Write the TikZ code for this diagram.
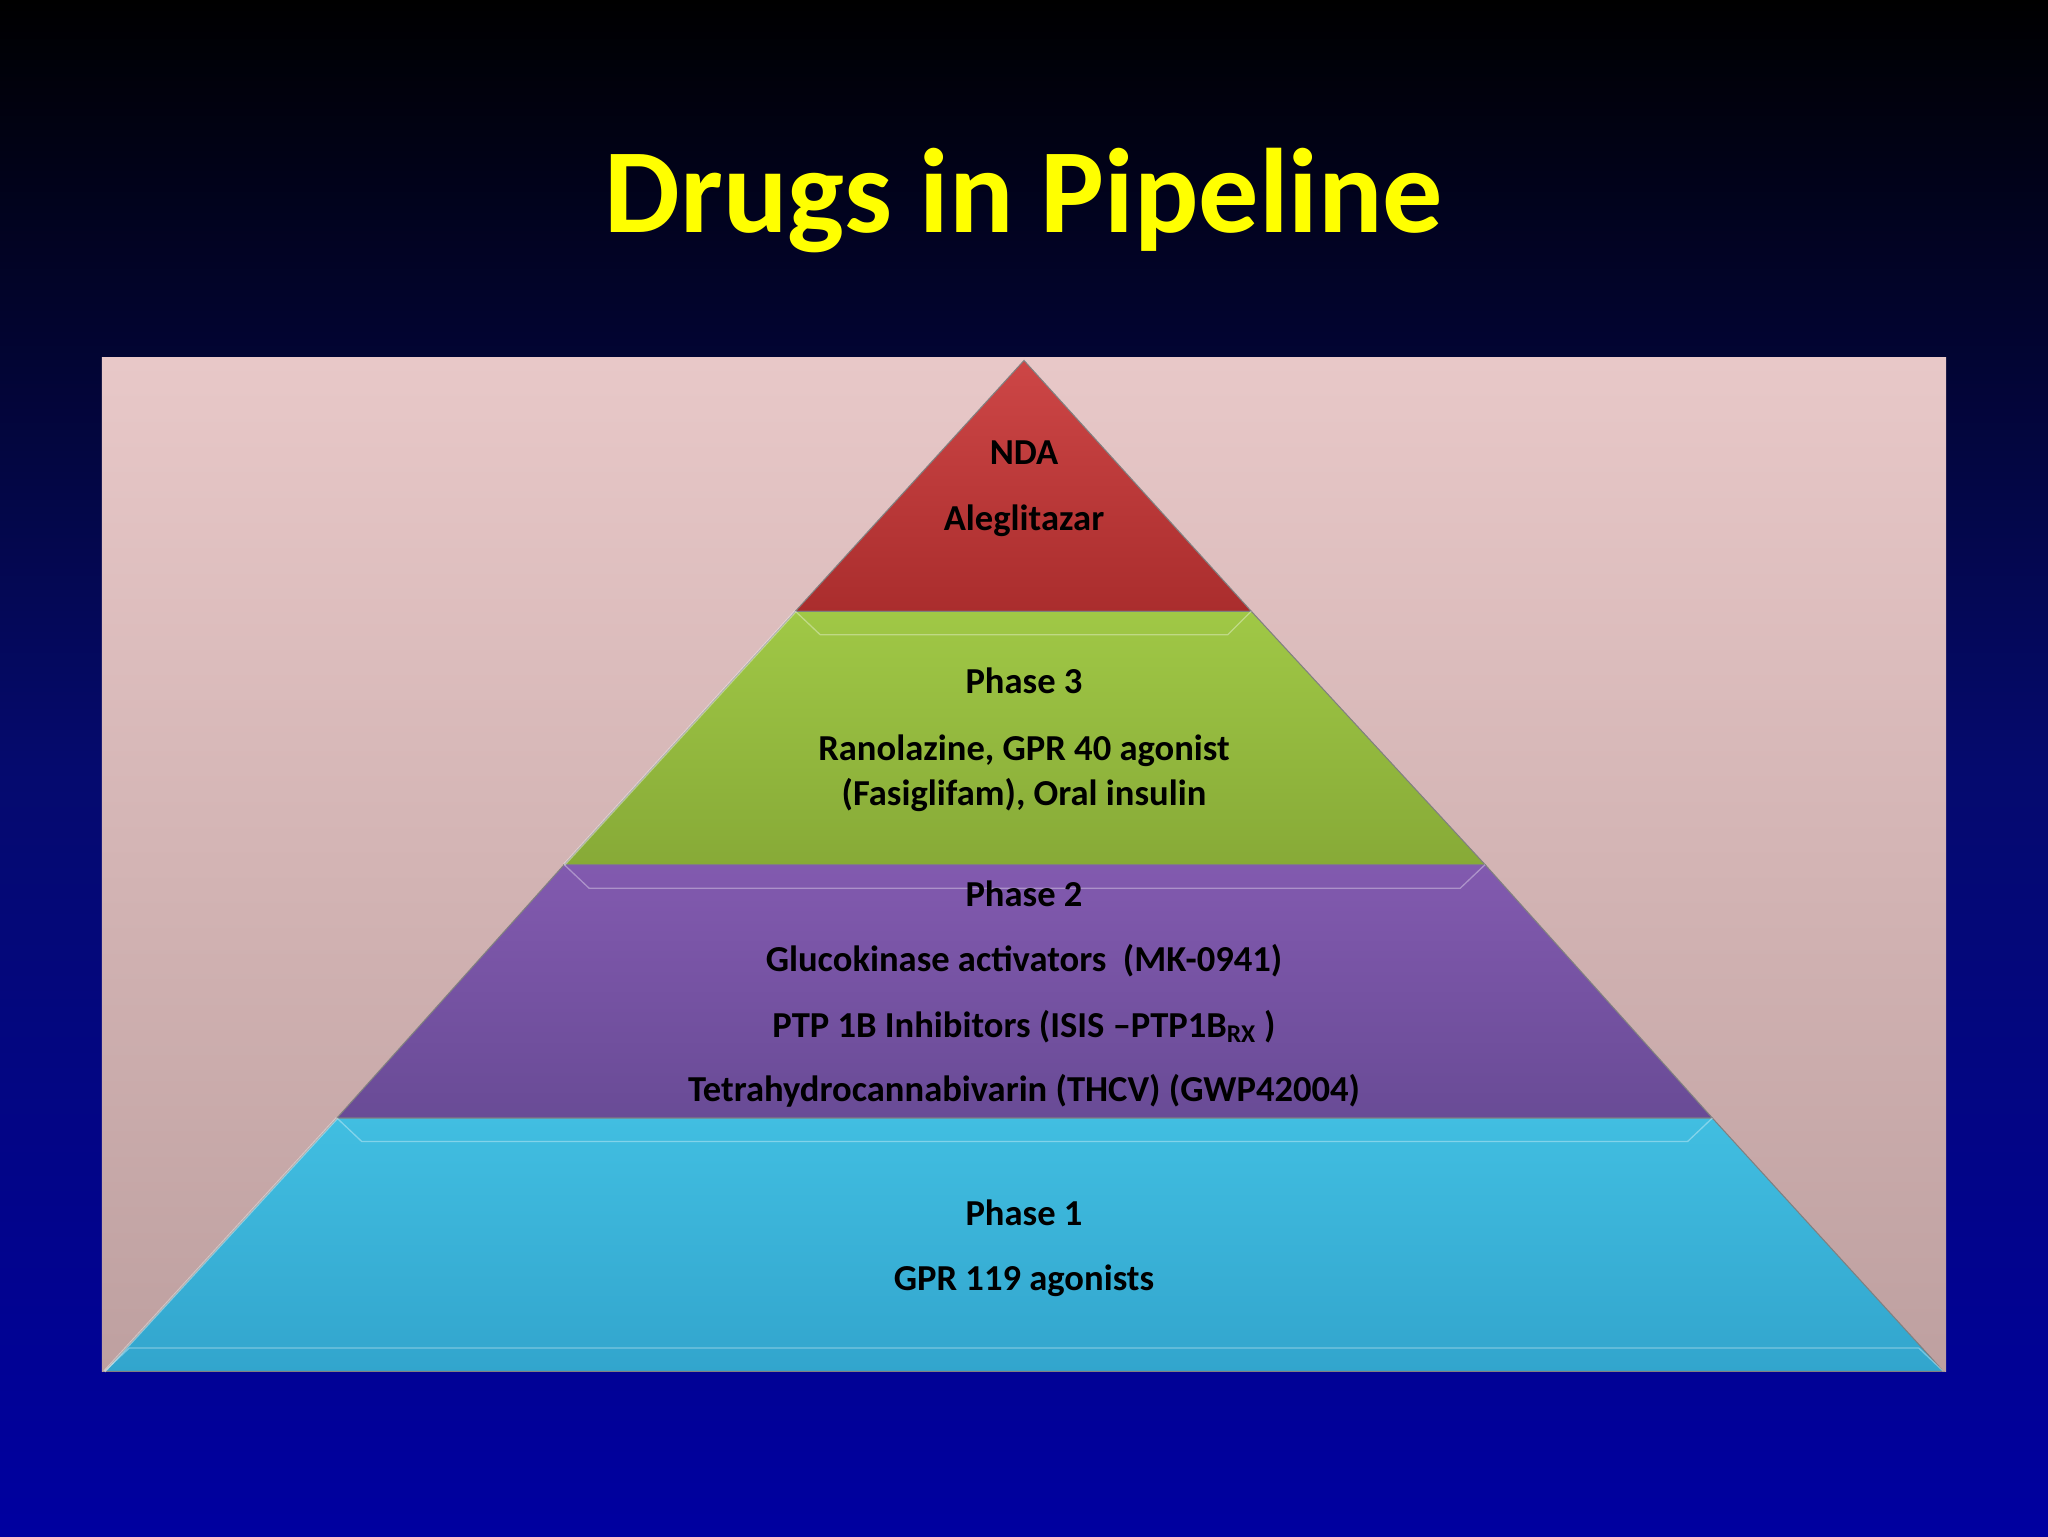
\documentclass[tikz,border=0pt]{standalone}
\usepackage{fontspec}
\setmainfont{Carlito}
\begin{document}
\begin{tikzpicture}[x=1pt,y=-1pt,
  lbl/.style={font=\bfseries\fontsize{28}{32}\selectfont, text=black, inner sep=0pt, anchor=base},
  edge/.style={draw=black!50, line width=0.8pt}]
\definecolor{redL}{RGB}{205,70,70}\definecolor{redD}{RGB}{170,45,45}
\definecolor{grnL}{RGB}{160,200,70}\definecolor{grnD}{RGB}{135,170,55}
\definecolor{purL}{RGB}{130,90,175}\definecolor{purD}{RGB}{105,75,150}
\definecolor{cyaL}{RGB}{65,190,225}\definecolor{cyaD}{RGB}{50,165,205}
\useasboundingbox (0,0) rectangle (1568,1176);
\shade[top color=black, bottom color={rgb,255:red,0;green,0;blue,160}, middle color={rgb,255:red,5;green,10;blue,110}] (0,0) rectangle (1568,1176);
\shade[top color={rgb,255:red,232;green,200;blue,200}, bottom color={rgb,255:red,190;green,160;blue,160}] (78,274) rectangle (1490,1050);
\node[font=\bfseries\fontsize{92}{100}\selectfont, text={rgb,255:red,255;green,255;blue,0}, anchor=base] (title) at (784,178) {Drugs in Pipeline};
% layers
\shade[top color=redL, bottom color=redD, edge] (784,276) -- (958,468) -- (609,468) -- cycle;
\shade[top color=grnL, bottom color=grnD, edge] (609,468) -- (958,468) -- (1137,662) -- (432,662) -- cycle;
\shade[top color=purL, bottom color=purD, edge] (432,662) -- (1137,662) -- (1311,856) -- (258,856) -- cycle;
\shade[top color=cyaL, bottom color=cyaD, edge] (258,856) -- (1311,856) -- (1488,1050) -- (80,1050) -- cycle;
% bevels
\draw[white, opacity=0.35, line width=1pt] (609,468)--(628,486)--(940,486)--(958,468);
\draw[white, opacity=0.35, line width=1pt] (432,662)--(451,680)--(1118,680)--(1137,662);
\draw[white, opacity=0.35, line width=1pt] (258,856)--(277,874)--(1292,874)--(1311,856);
\draw[white, opacity=0.35, line width=1pt] (80,1050)--(99,1032)--(1469,1032)--(1488,1050);
\draw[white, opacity=0.4, line width=2pt] (609,468)--(432,662) (258,856)--(80,1050);
\node[lbl] (n1) at (784,356) {NDA};
\node[lbl] (n2) at (784,406) {Aleglitazar};
\node[lbl] (g1) at (784,531) {Phase 3};
\node[lbl] (g2) at (784,582) {Ranolazine, GPR 40 agonist};
\node[lbl] (g3) at (784,617) {(Fasiglifam), Oral insulin};
\node[lbl] (p1) at (784,694) {Phase 2};
\node[lbl] (p2) at (784,744) {Glucokinase activators\ \ (MK-0941)};
\node[lbl] (p3) at (784,794) {PTP 1B Inhibitors (ISIS –PTP1B\textsubscript{RX} )};
\node[lbl] (p4) at (784,843) {Tetrahydrocannabivarin (THCV) (GWP42004)};
\node[lbl] (c1) at (784,938) {Phase 1};
\node[lbl] (c2) at (784,988) {GPR 119 agonists};
\end{tikzpicture}
\end{document}
